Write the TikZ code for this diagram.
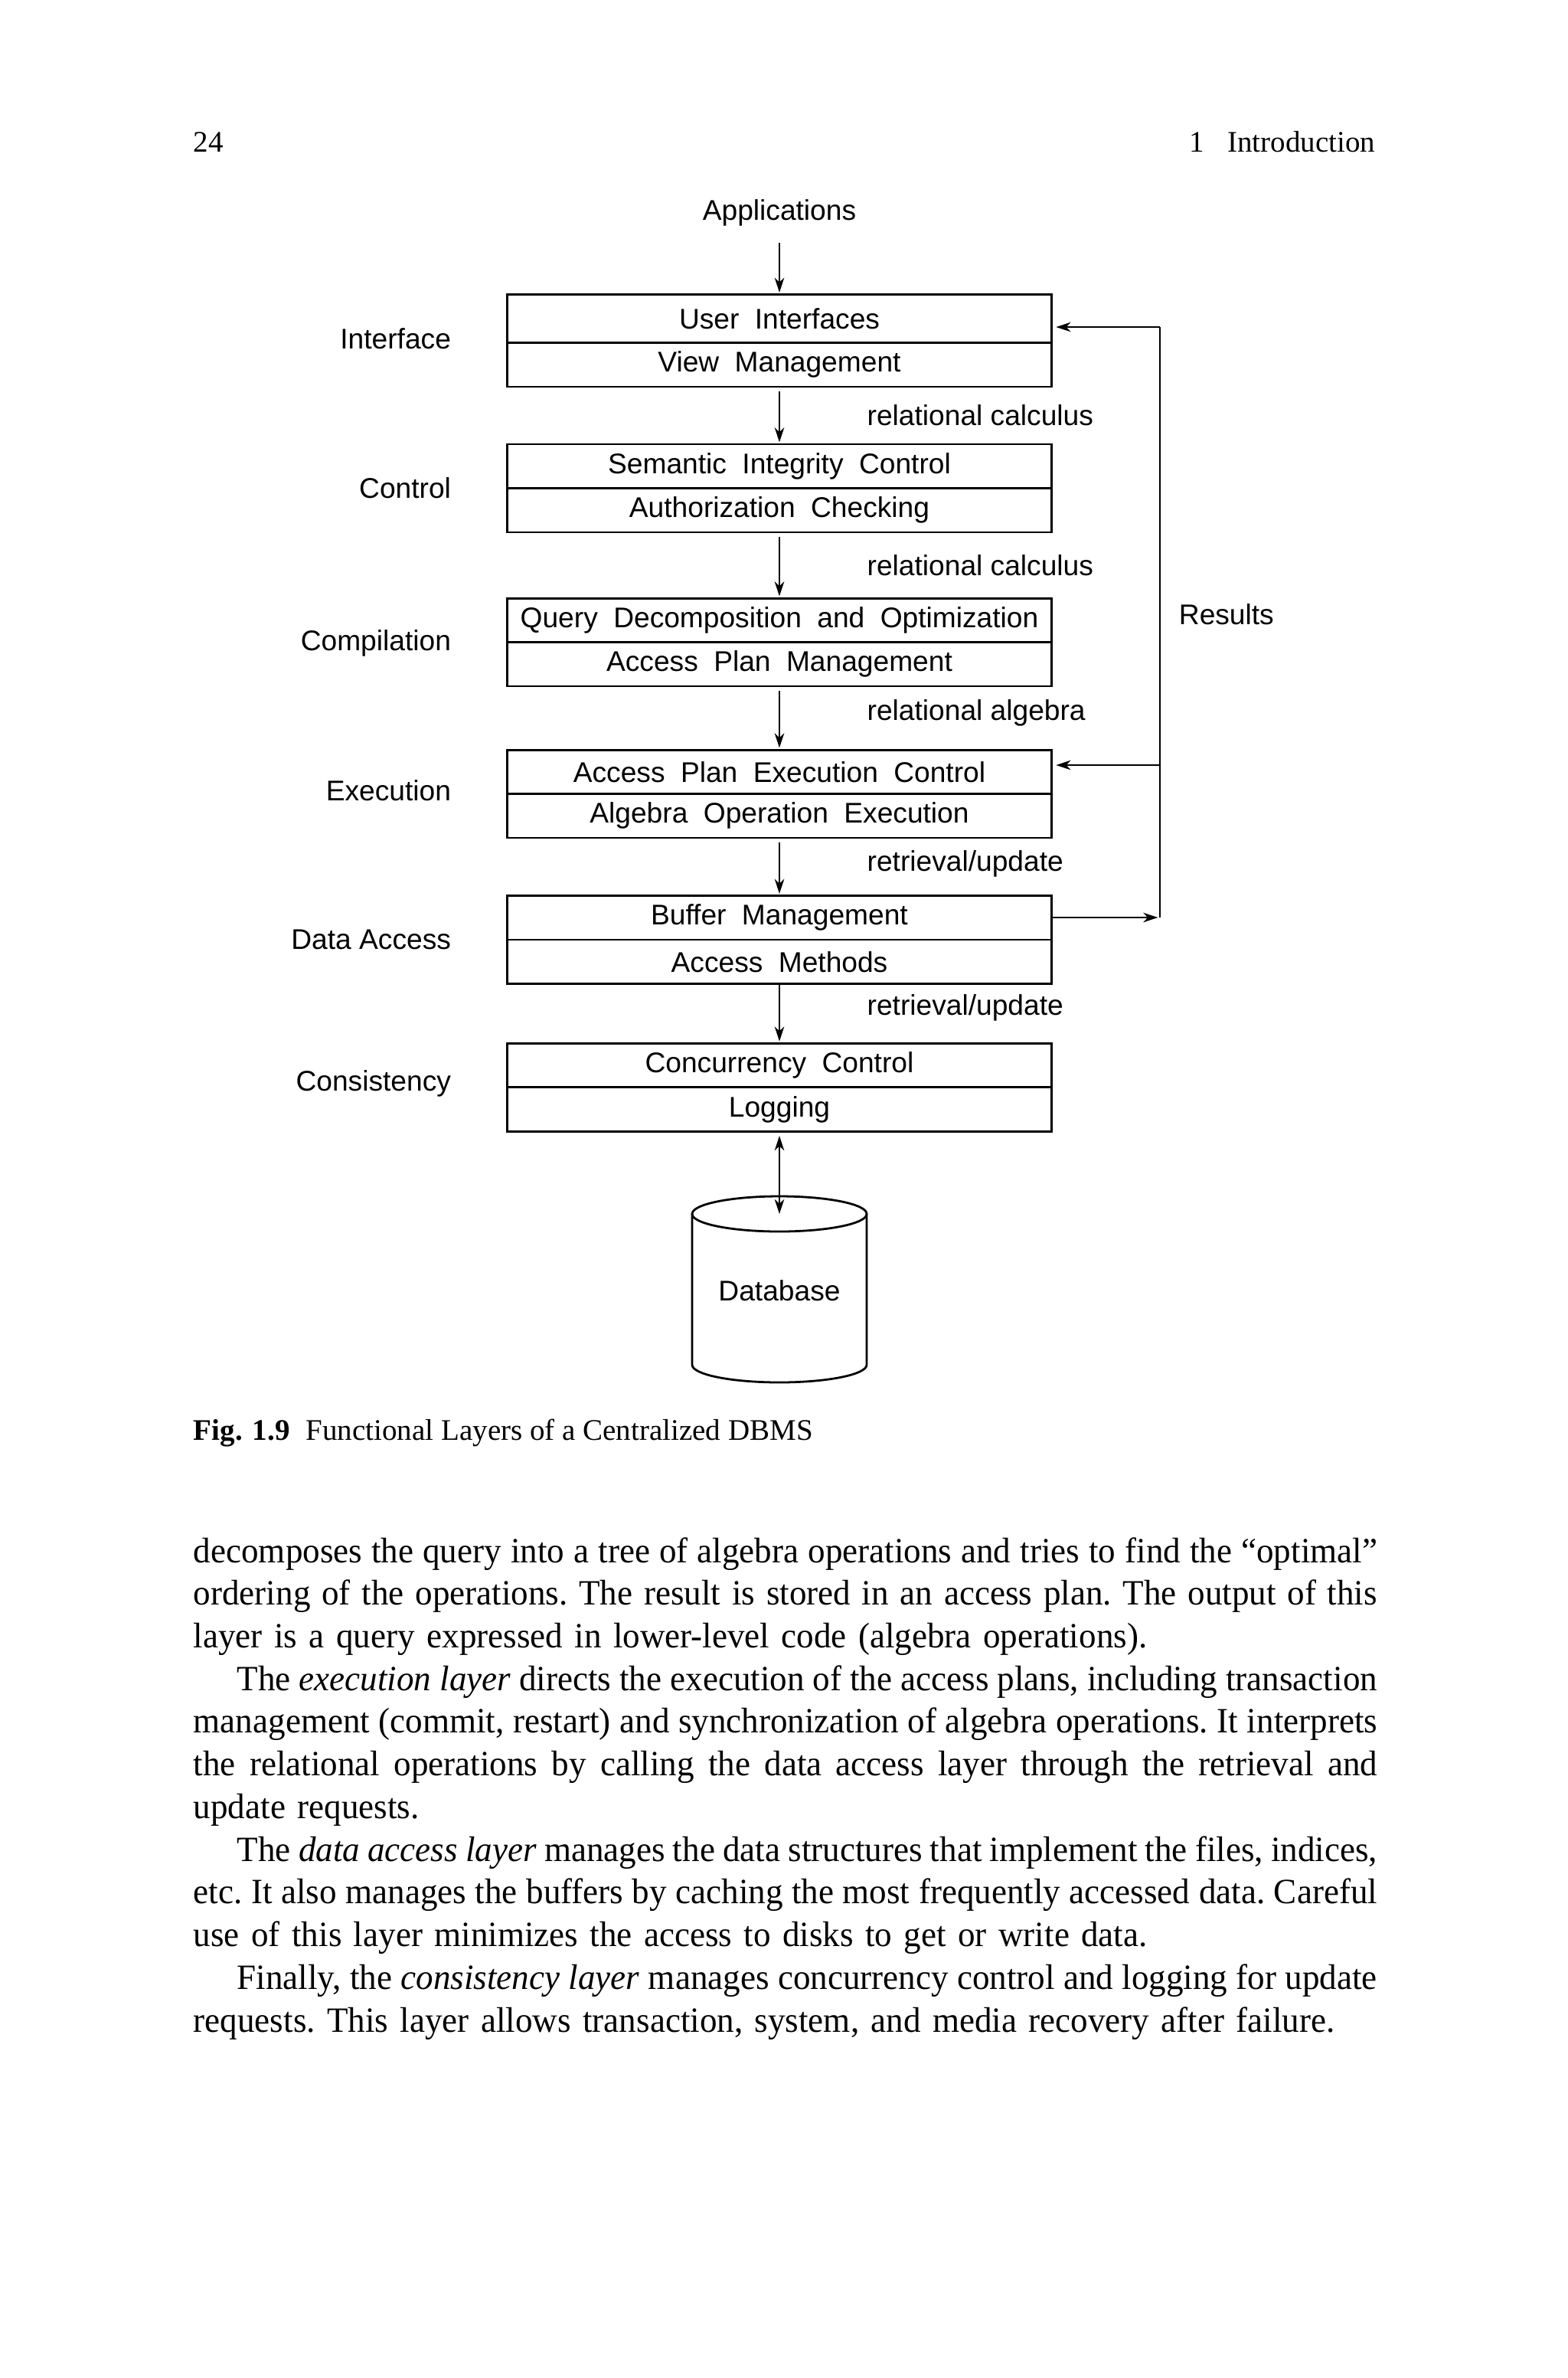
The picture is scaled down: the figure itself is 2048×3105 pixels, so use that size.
\documentclass[tikz,border=0pt]{standalone}
\usepackage{fontspec}
\setmainfont{Liberation Serif}
\newfontfamily\bodyserif{Liberation Serif}[FakeStretch=0.97]
\newfontfamily\diagfont{Liberation Sans}
\usepackage{tikz}
\usetikzlibrary{positioning, arrows.meta, calc}

\newcommand\labelfont{\diagfont\fontsize{8}{9.6}\selectfont}
\newcommand\boxfont{\diagfont\fontsize{8}{9.6}\selectfont\spaceskip=0.55em\relax}
\newcommand\headfont{\fontsize{8.4}{10}\selectfont}
\newcommand\bodyfont{\bodyserif\fontsize{10}{12}\selectfont\frenchspacing}
\newcommand\jline[1]{{\spaceskip=0.17em plus 0.6em minus 0.05em\relax\makebox[117mm][s]{#1}}}

\begin{document}
\begin{tikzpicture}[
    x=0.075684mm, y=-0.075684mm,
    >={Stealth[length=1.45mm, width=0.95mm, inset=0.45mm]},
    cell/.style={rectangle, draw, line width=0.6pt, minimum width=53.8mm, minimum height=4.35mm, inner sep=0pt, outer sep=0pt, font=\boxfont},
    labelnode/.style={inner sep=0pt, font=\labelfont},
    layerlabel/.style={inner sep=0pt, font=\labelfont, anchor=east},
    edgelabel/.style={inner sep=0pt, font=\labelfont},
    flow/.style={->, line width=0.45pt, shorten <=0.45mm, shorten >=0.2mm},
]

% page
\fill[white] (0,0) rectangle (2048,3105);

% running head
\node[anchor=base west, inner sep=0pt, font=\headfont] (pgno) at (252,198) {24};
\node[anchor=base east, inner sep=0pt, font=\headfont] (chap) at (1797,198) {1\hspace{2.3mm}Introduction};

% Interface
\node[labelnode] (app) at (1018,278) {Applications};
\node[cell, minimum height=4.77mm, anchor=south] (ui) at (1018,447.5) {User Interfaces};
\node[cell, below=0pt of ui] (vm) {View Management};

% Control
\node[cell, anchor=south] (sic) at (1018,637.5) {Semantic Integrity Control};
\node[cell, below=0pt of sic] (ac) {Authorization Checking};

% Compilation
\node[cell, anchor=south] (qdo) at (1018,838.6) {Query Decomposition and Optimization};
\node[cell, below=0pt of qdo] (apm) {Access Plan Management};

% Execution
\node[cell, anchor=south] (apec) at (1018,1036.6) {Access Plan Execution Control};
\node[cell, below=0pt of apec] (aoe) {Algebra Operation Execution};

% Data access
\node[cell, anchor=south] (bm) at (1018,1227) {Buffer Management};
\node[cell, below=0pt of bm] (am) {Access Methods};

% Consistency
\node[cell, anchor=south] (cc) at (1018,1419.7) {Concurrency Control};
\node[cell, below=0pt of cc] (lg) {Logging};

% Layer names
\node[layerlabel, left=5.5mm of ui.south west, yshift=0.4mm] (lint) {Interface};
\node[layerlabel, left=5.5mm of sic.south west] (lctl) {Control};
\node[layerlabel, left=5.5mm of qdo.south west, yshift=-0.1mm] (lcmp) {Compilation};
\node[layerlabel, left=5.5mm of apec.south west, yshift=0.3mm] (lexe) {Execution};
\node[layerlabel, left=5.5mm of bm.south west] (ldac) {Data Access};
\node[layerlabel, left=5.5mm of cc.south west, yshift=0.4mm] (lcon) {Consistency};

% Arrows down the stack
\draw[flow, shorten <=1.6mm] (app) -- (ui);
\draw[flow] (vm) -- node[edgelabel, right=8.6mm] (rc1) {relational calculus} (sic);
\draw[flow] (ac) -- node[edgelabel, right=8.6mm] (rc2) {relational calculus} (qdo);
\draw[flow] (apm) -- node[edgelabel, right=8.6mm, yshift=0.5mm] (ra) {relational algebra} (apec);
\draw[flow] (aoe) -- node[edgelabel, right=8.6mm, yshift=0.3mm] (ru1) {retrieval/update} (bm);
\draw[flow, shorten <=0pt] (am) -- node[edgelabel, right=8.6mm, yshift=0.6mm] (ru2) {retrieval/update} (cc);

% Results loop
\coordinate (rtop) at (1515,427);
\coordinate (rexe) at (1515,999);
\coordinate (rbot) at (1515,1198);
\draw[line width=0.45pt] (rtop) -- (rbot);
\draw[flow, shorten <=0pt, shorten >=0.2mm] (bm.east |- rbot) -- (rbot);
\draw[flow, shorten <=0pt, shorten >=0.45mm] (rtop) -- (rtop -| ui.east);
\draw[flow, shorten <=0pt, shorten >=0.45mm] (rexe) -- (rexe -| apec.east);
\node[labelnode, anchor=west] (res) at (1539,802) {Results};

% Database
\coordinate (dbtop) at (1018,1585);
\draw[<->, line width=0.45pt, shorten <=0.45mm] (lg) -- (dbtop);
\draw[line width=0.6pt] (dbtop) ellipse (114 and 23);
\draw[line width=0.6pt] ($(dbtop)+(-114,0)$) -- ++(0,197) arc (180:0:114 and 23) -- ++(0,-197);
\node[labelnode] (db) at (1018,1685) {Database};

% Caption
\node[anchor=base west, inner sep=0pt, font=\headfont] (cap) at (252,1880) {\textbf{Fig. 1.9}\hspace{1.6mm}Functional Layers of a Centralized DBMS};

% Body text
\node[anchor=base west, inner sep=0pt, text width=117mm, align=left, font=\bodyfont] (body) at (252,2040) {%
\jline{decomposes the query into a tree of algebra operations and tries to find the “optimal”}\\
\jline{ordering of the operations. The result is stored in an access plan. The output of this}\\
layer is a query expressed in lower-level code (algebra operations).\\
\jline{\hspace*{4.3mm}The \emph{execution layer} directs the execution of the access plans, including transaction}\\
\jline{management (commit, restart) and synchronization of algebra operations. It interprets}\\
\jline{the relational operations by calling the data access layer through the retrieval and}\\
update requests.\\
\jline{\hspace*{4.3mm}The \emph{data access layer} manages the data structures that implement the files, indices,}\\
\jline{etc. It also manages the buffers by caching the most frequently accessed data. Careful}\\
use of this layer minimizes the access to disks to get or write data.\\
\jline{\hspace*{4.3mm}Finally, the \emph{consistency layer} manages concurrency control and logging for update}\\
requests. This layer allows transaction, system, and media recovery after failure.};

\end{tikzpicture}
\end{document}
